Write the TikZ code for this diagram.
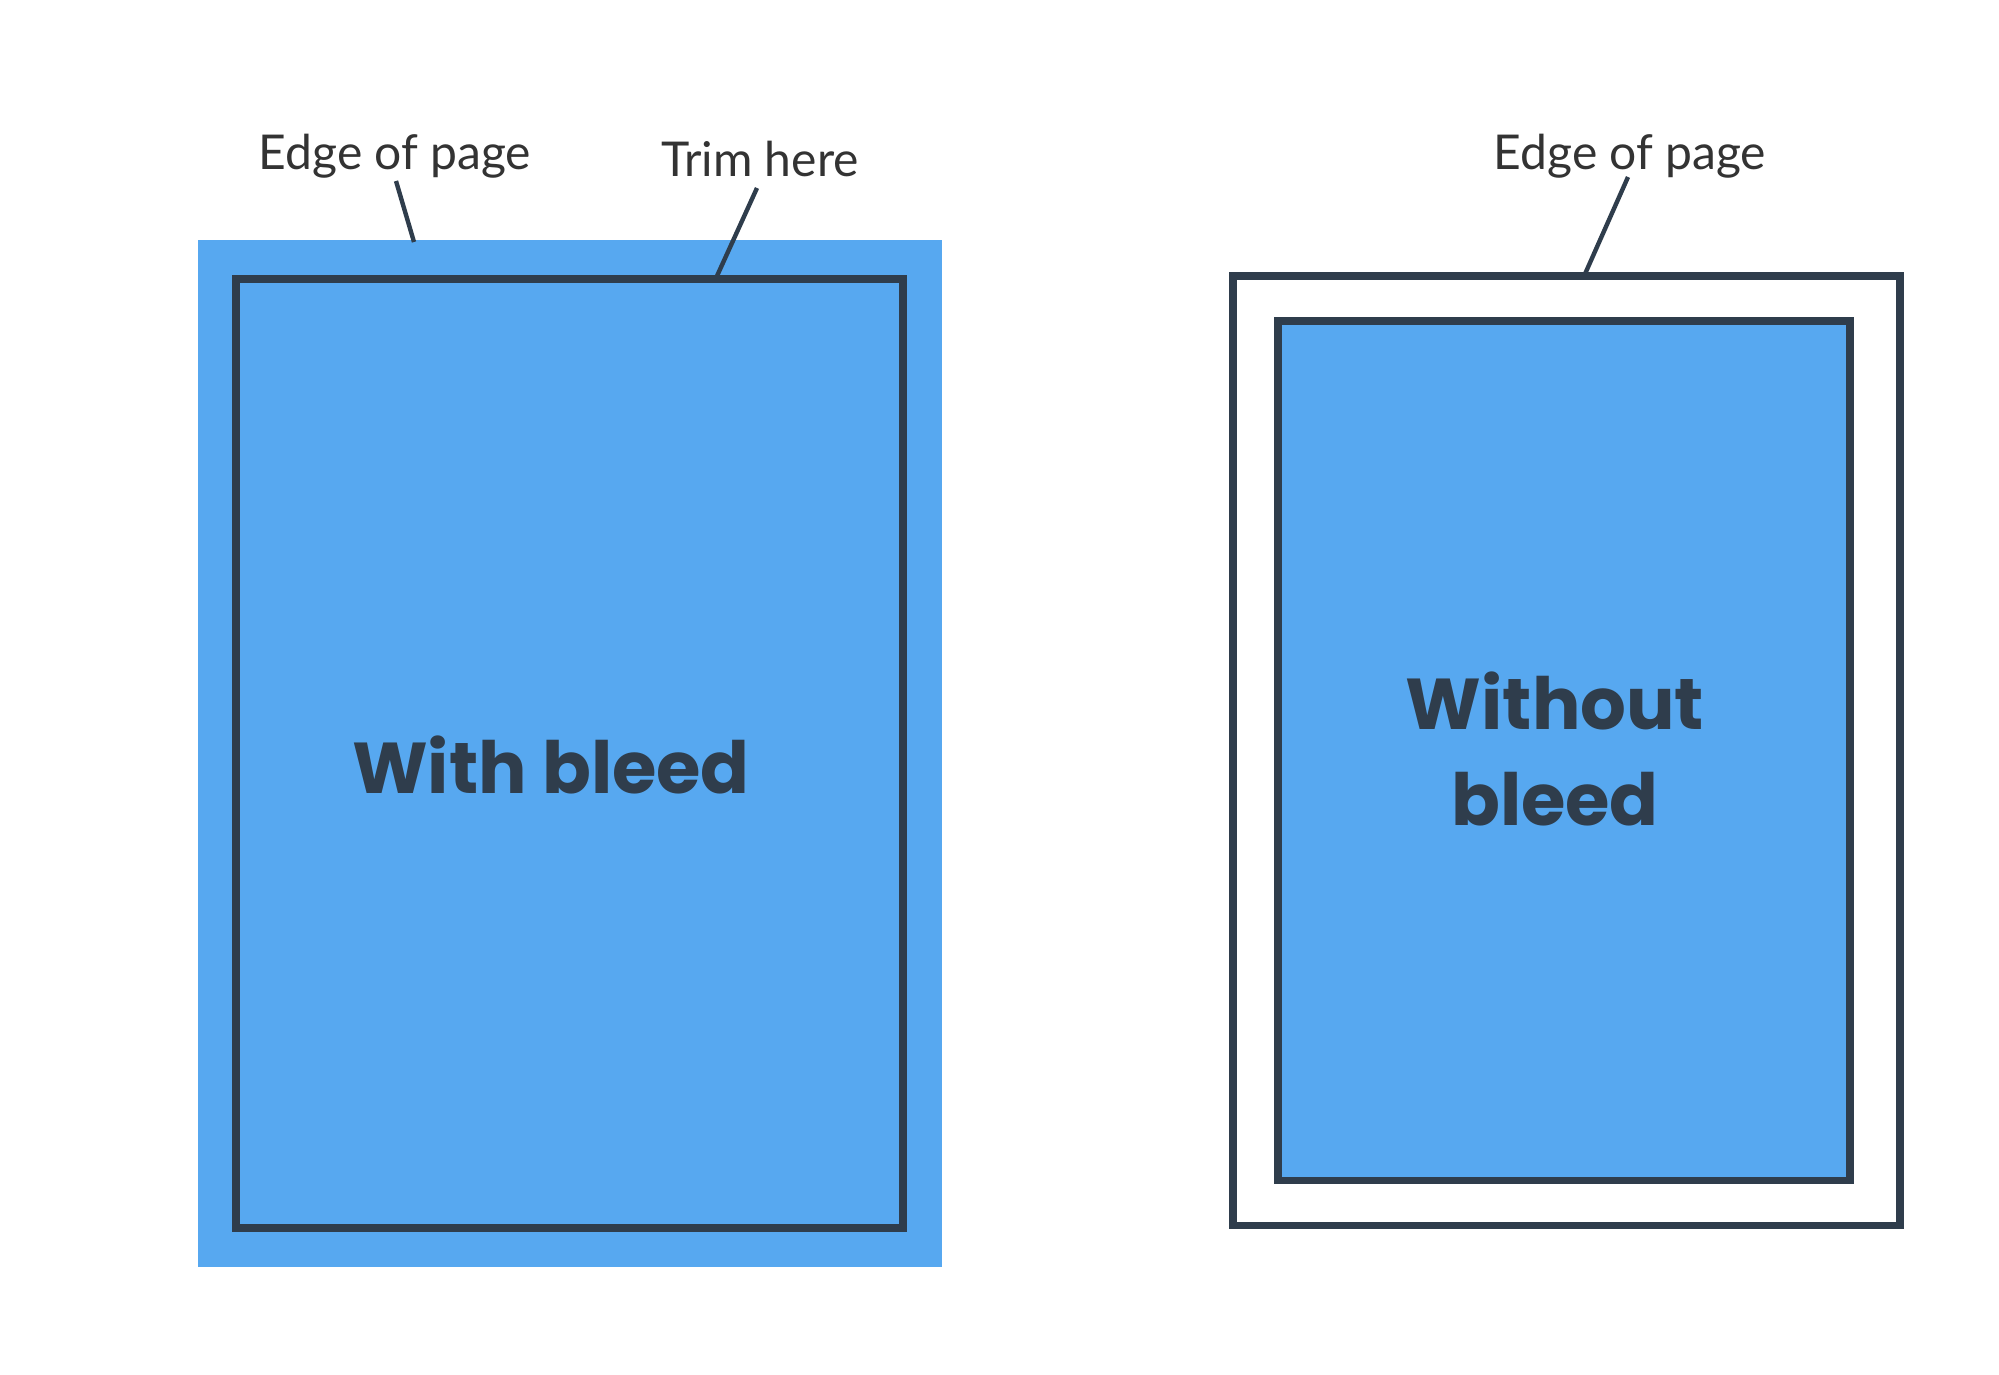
\documentclass[tikz,border=0pt]{standalone}
\usepackage{fontspec}
\setmainfont{Lato}
\newfontfamily\titlefont{Poppins}
\definecolor{bleedblue}{RGB}{87,168,240}
\definecolor{darkline}{RGB}{47,61,76}
\definecolor{labelgray}{RGB}{51,51,51}
\begin{document}
\begin{tikzpicture}[x=0.5pt,y=-0.5pt,
  box/.style={rectangle,inner sep=0pt,outer sep=0pt,line width=3.8pt,draw=darkline},
  lbl/.style={anchor=base,inner sep=0pt,text=labelgray,font=\fontsize{24}{28}\selectfont},
  title/.style={text=darkline,align=center,font=\titlefont\bfseries\fontsize{36}{48}\selectfont},
  pointer/.style={line width=2.2pt,draw=darkline}]
\useasboundingbox (0,0) rectangle (1999,1375);
% left: with bleed
\node[rectangle,fill=bleedblue,inner sep=0pt,outer sep=0pt,minimum width=372pt,minimum height=513.5pt] (bleed) at (570,753.5) {};
\node[box,minimum width=333.5pt,minimum height=474.5pt] (trim) at (569.5,753.5) {};
\node[title] (wb) at (551,765) {With bleed};
% right: without bleed
\node[box,fill=white,minimum width=333.5pt,minimum height=474.75pt] (page) at (1566.5,750.75) {};
\node[box,fill=bleedblue,minimum width=286pt,minimum height=429.75pt] (art) at (1564,750.75) {};
\node[title] (wob) at (1555,749) {Without\\bleed};
% labels
\node[lbl] (l1) at (395,170) {Edge of page};
\node[lbl] (l2) at (760,177) {Trim here};
\node[lbl] (l3) at (1630,170) {Edge of page};
\coordinate (s1) at (396,181);
\coordinate (e1) at (414,242);
\coordinate (s2) at (757,188);
\coordinate (e2) at (717,276);
\coordinate (s3) at (1628,177);
\coordinate (e3) at (1585,274);
\draw[pointer] (s1) -- (e1);
\draw[pointer] (s2) -- (e2);
\draw[pointer] (s3) -- (e3);
\end{tikzpicture}
\end{document}
